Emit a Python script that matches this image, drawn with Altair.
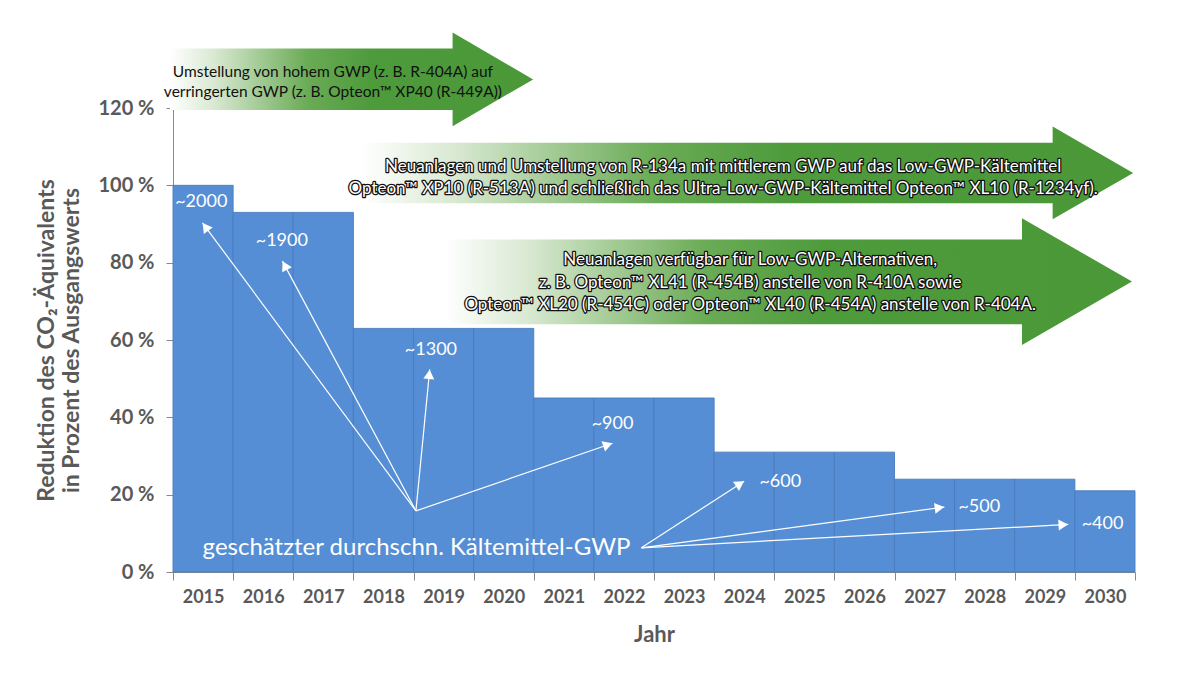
import math
import altair as alt
import pandas as pd

# ---------------- data ----------------
years = list(range(2015, 2031))
reduction_pct = [100, 93, 93, 63, 63, 63, 45, 45, 45, 31, 31, 31, 24, 24, 24, 21]
y_ticks = [0, 20, 40, 60, 80, 100, 120]

gwp_labels = ["~2000", "~1900", "~1300", "~900", "~600", "~500", "~400"]
caption = "geschätzter durchschn. Kältemittel-GWP"

arrow1_lines = ["Umstellung von hohem GWP (z. B. R-404A) auf",
                "verringerten GWP (z. B. Opteon™ XP40 (R-449A))"]
arrow2_lines = ["Neuanlagen und Umstellung von R-134a mit mittlerem GWP auf das Low-GWP-Kältemittel",
                "Opteon™ XP10 (R-513A) und schließlich das Ultra-Low-GWP-Kältemittel Opteon™ XL10 (R-1234yf)."]
arrow3_lines = ["Neuanlagen verfügbar für Low-GWP-Alternativen,",
                "z. B. Opteon™ XL41 (R-454B) anstelle von R-410A sowie",
                "Opteon™ XL20 (R-454C) oder Opteon™ XL40 (R-454A) anstelle von R-404A."]

# ---------------- annotation anchors (data units: year, percent) ----------------
gwp_label_x = [2015.47, 2016.81, 2019.29, 2022.31, 2025.10, 2028.41, 2030.46]
gwp_label_y = [95.7, 85.6, 57.4, 38.2, 23.3, 16.8, 12.3]
caption_xy = (2019.05, 6.2)

ptr_src = [(2019.04, 15.8)] * 4 + [(2022.79, 6.26)] * 3
ptr_tip = [(2015.49, 90.3), (2016.82, 80.4), (2019.27, 52.4), (2022.31, 33.3),
           (2024.50, 23.5), (2027.83, 16.8), (2029.89, 12.3)]

# big arrows: x_start, x_head, x_tip, body_lo, body_hi, head_lo, head_hi, tip_y
big_arrows = [
    (2014.95, 2019.65, 2020.99, 119.5, 135.4, 115.3, 139.5, 127.4),
    (2018.14, 2029.63, 2030.97, 95.35, 111.0, 91.2, 115.2, 103.2),
    (2019.52, 2029.12, 2030.95, 64.1, 86.0, 58.7, 91.5, 75.1),
]
arrow1_text_xy = (2017.66, [129.3, 124.1])
arrow2_text_xy = (2024.15, [104.7, 99.0])
arrow3_text_xy = (2024.60, [80.7, 74.7, 69.1])

# ---------------- layout ----------------
W, H = 962, 464
X_DOM = [2015, 2031]
Y_DOM = [0, 120]
PXX = W / (X_DOM[1] - X_DOM[0])
PXY = H / (Y_DOM[1] - Y_DOM[0])

FONT = "Lato"
GREY = "#595959"
GREEN = "#4e9b3c"

xscale = alt.Scale(domain=X_DOM, nice=False, zero=False)
yscale = alt.Scale(domain=Y_DOM, nice=False)

XA = alt.Axis(values=years + [2031], format="d",
              labelExpr="datum.value < 2031 ? datum.label : ''",
              labelOffset=PXX / 2, labelFlush=False, labelOverlap=False,
              tickSize=8, labelPadding=8, grid=False,
              labelFontSize=18, labelFontWeight="bold", labelColor=GREY,
              title="Jahr", titleFontSize=22, titleFontWeight="bold",
              titleColor=GREY, titlePadding=18,
              domainColor="#8a8a8a", tickColor="#8a8a8a")
YA = alt.Axis(values=y_ticks, labelExpr="datum.value + ' %'",
              tickSize=7, labelPadding=12, grid=False,
              labelFontSize=20, labelFontWeight="bold", labelColor=GREY,
              title=["Reduktion des CO₂-Äquivalents", "in Prozent des Ausgangswerts"],
              titleFontSize=23, titleFontWeight="bold", titleColor=GREY,
              titlePadding=14, titleLineHeight=25,
              domainColor="#8a8a8a", tickColor="#8a8a8a")


def X(f):
    return alt.X(f, scale=xscale, axis=XA)


def Y(f):
    return alt.Y(f, scale=yscale, axis=YA)


bars_df = pd.DataFrame({"start": years, "end": [y + 1 for y in years], "pct": reduction_pct})

bars = alt.Chart(bars_df).mark_bar(
    fill="#558ED5", stroke="#4a7bbd", strokeWidth=1, strokeOpacity=0.9
).encode(
    x=X("start:Q"), x2="end:Q",
    y=Y("pct:Q"), y2=alt.datum(0),
)

# big gradient arrows
grad = alt.Gradient(
    gradient="linear",
    stops=[alt.GradientStop(color="#ffffff", offset=0),
           alt.GradientStop(color="#d9e9d2", offset=0.12),
           alt.GradientStop(color="#6aab55", offset=0.38),
           alt.GradientStop(color=GREEN, offset=0.55),
           alt.GradientStop(color="#4a9838", offset=1)],
    x1=0, x2=1, y1=0, y2=0,
)
arrow_layers = []
for (xs, xh, xt, blo, bhi, hlo, hhi, ty) in big_arrows:
    adf = pd.DataFrame({
        "x": [xs, xh, xh + 0.0005, xt],
        "lo": [blo, blo, hlo, ty],
        "hi": [bhi, bhi, hhi, ty],
    })
    arrow_layers.append(
        alt.Chart(adf).mark_area(color=grad, orient="vertical", line=False).encode(
            x=X("x:Q"), y=Y("lo:Q"), y2="hi:Q"
        )
    )


def text_df(xy, lines):
    x, ys = xy
    return pd.DataFrame({"x": [x] * len(lines), "y": ys, "t": lines})


t1 = alt.Chart(text_df(arrow1_text_xy, arrow1_lines)).mark_text(
    font=FONT, fontSize=15.5, color="#111111", baseline="middle", align="center"
).encode(x=X("x:Q"), y=Y("y:Q"), text="t:N")

outlined = []
for xy, lines in [(arrow2_text_xy, arrow2_lines), (arrow3_text_xy, arrow3_lines)]:
    df = text_df(xy, lines)
    outlined.append(alt.Chart(df).mark_text(
        font=FONT, fontSize=17, color="#111111", stroke="#111111", strokeWidth=2.6,
        baseline="middle", align="center", strokeJoin="round"
    ).encode(x=X("x:Q"), y=Y("y:Q"), text="t:N"))
    outlined.append(alt.Chart(df).mark_text(
        font=FONT, fontSize=17, color="#ffffff", baseline="middle", align="center"
    ).encode(x=X("x:Q"), y=Y("y:Q"), text="t:N"))

# pointer lines and heads
rows = []
for (sx, sy), (tx, ty) in zip(ptr_src, ptr_tip):
    dxp = (tx - sx) * PXX
    dyp = -(ty - sy) * PXY
    L = math.hypot(dxp, dyp)
    ux, uy = dxp / L, dyp / L
    back = 5.0
    rows.append({
        "x": sx, "y": sy, "x2": tx, "y2": ty,
        "hx": tx - back * ux / PXX, "hy": ty + back * uy / PXY,
        "ang": math.degrees(math.atan2(ux, -uy)) % 360,
    })
ptr_df = pd.DataFrame(rows)

ptr_lines = alt.Chart(ptr_df).mark_rule(color="white", strokeWidth=1.2).encode(
    x=X("x:Q"), y=Y("y:Q"), x2="x2:Q", y2="y2:Q"
)
ptr_heads = alt.Chart(ptr_df).mark_point(
    shape="triangle-up", filled=True, size=120, color="white", opacity=1
).encode(
    x=X("hx:Q"), y=Y("hy:Q"),
    angle=alt.Angle("ang:Q", scale=None),
)

lab_df = pd.DataFrame({"x": gwp_label_x, "y": gwp_label_y, "t": gwp_labels})
gwp_text = alt.Chart(lab_df).mark_text(
    font=FONT, fontSize=18, color="white", baseline="middle", align="center"
).encode(x=X("x:Q"), y=Y("y:Q"), text="t:N")

cap_df = pd.DataFrame({"x": [caption_xy[0]], "y": [caption_xy[1]], "t": [caption]})
cap_text = alt.Chart(cap_df).mark_text(
    font=FONT, fontSize=24, color="white", baseline="middle", align="center"
).encode(x=X("x:Q"), y=Y("y:Q"), text="t:N")

chart = alt.layer(
    bars, *arrow_layers, t1, *outlined, ptr_lines, ptr_heads, gwp_text, cap_text
).properties(
    width=W, height=H,
    padding={"left": 165, "top": 100, "right": 57, "bottom": 93},
    autosize=alt.AutoSizeParams(type="none"),
    background="white",
).configure_view(stroke=None).configure_axis(labelFont=FONT, titleFont=FONT)

chart.save("out.html", embed_options={"renderer": "svg", "actions": False})
